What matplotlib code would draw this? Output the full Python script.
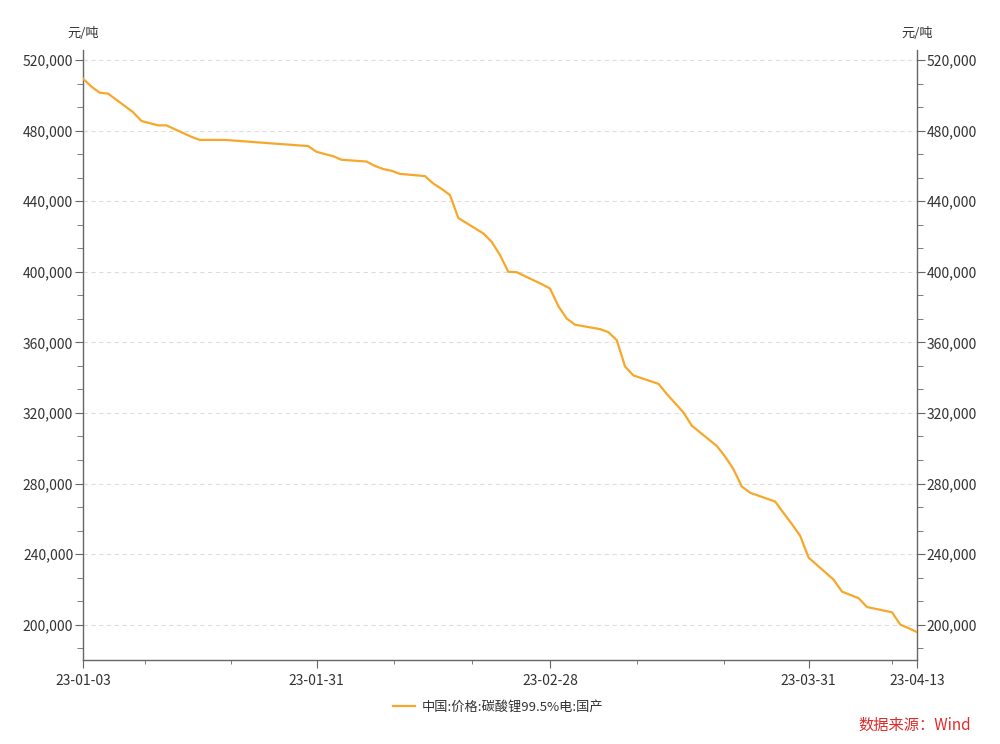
import matplotlib
matplotlib.use('Agg')
import matplotlib.pyplot as plt
import matplotlib.dates as mdates
from matplotlib.ticker import FixedLocator, FuncFormatter
import pandas as pd

plt.rcParams['font.family'] = ['Noto Sans CJK SC', 'DejaVu Sans']

dates = ['2023-01-03', '2023-01-04', '2023-01-05', '2023-01-06', '2023-01-09', '2023-01-10',
         '2023-01-11', '2023-01-12', '2023-01-13', '2023-01-16', '2023-01-17', '2023-01-18',
         '2023-01-19', '2023-01-20', '2023-01-30', '2023-01-31', '2023-02-01', '2023-02-02',
         '2023-02-03', '2023-02-06', '2023-02-07', '2023-02-08', '2023-02-09', '2023-02-10',
         '2023-02-13', '2023-02-14', '2023-02-15', '2023-02-16', '2023-02-17', '2023-02-20',
         '2023-02-21', '2023-02-22', '2023-02-23', '2023-02-24', '2023-02-27', '2023-02-28',
         '2023-03-01', '2023-03-02', '2023-03-03', '2023-03-06', '2023-03-07', '2023-03-08',
         '2023-03-09', '2023-03-10', '2023-03-13', '2023-03-14', '2023-03-15', '2023-03-16',
         '2023-03-17', '2023-03-20', '2023-03-21', '2023-03-22', '2023-03-23', '2023-03-24',
         '2023-03-27', '2023-03-28', '2023-03-29', '2023-03-30', '2023-03-31', '2023-04-03',
         '2023-04-04', '2023-04-06', '2023-04-07', '2023-04-10', '2023-04-11', '2023-04-12',
         '2023-04-13']
prices = [509500, 505000, 501500, 501000, 490500, 485500,
          484250, 483000, 483000, 476500, 474750, 474750,
          474750, 474750, 471250, 468000, 466750, 465500,
          463500, 462500, 460000, 458250, 457250, 455500,
          454250, 450000, 447000, 443500, 430500, 421750,
          417000, 409500, 400000, 399750, 393000, 390500,
          380500, 373500, 370000, 367500, 365750, 361250,
          346250, 341250, 336500, 330750, 325500, 320250,
          312750, 301250, 295250, 288000, 278250, 274750,
          269750, 263250, 257000, 250250, 238000, 225500,
          218750, 215000, 210000, 207000, 200000, 198000,
          195750]

series_name = '中国:价格:碳酸锂99.5%电:国产'
unit = '元/吨'
x_major = ['2023-01-03', '2023-01-31', '2023-02-28', '2023-03-31', '2023-04-13']
x_minor_offsets = [7.4, 17.7, 37.3, 46.7, 66.4, 76.8, 97.0]
y_major = [200000, 240000, 280000, 320000, 360000, 400000, 440000, 480000, 520000]

x = pd.to_datetime(dates)
axis_grey = '#666666'
text_grey = '#333333'

fig = plt.figure(figsize=(10, 7.44), dpi=100)
ax = fig.add_axes([0.083, 0.113, 0.834, 0.82])

ax.plot(x, prices, color='#F7A72A', linewidth=1.6, label=series_name, zorder=3)

x0 = mdates.date2num(pd.Timestamp('2023-01-03'))
x1 = mdates.date2num(pd.Timestamp('2023-04-13'))
ax.set_xlim(x0, x1)
ax.set_ylim(180000, 525800)

ax.xaxis.set_major_locator(FixedLocator([mdates.date2num(pd.Timestamp(d)) for d in x_major]))
ax.xaxis.set_minor_locator(FixedLocator([x0 + o for o in x_minor_offsets]))
ax.xaxis.set_major_formatter(mdates.DateFormatter('%y-%m-%d'))

# minor ticks split each 40,000 step into thirds
y_minor = []
for v in y_major + [160000]:
    for k in (1, 2):
        m = v + k * 40000 / 3
        if 180000 < m < 525800 and m not in y_major:
            y_minor.append(m)
ax.yaxis.set_major_locator(FixedLocator(y_major))
ax.yaxis.set_minor_locator(FixedLocator(y_minor))
ax.yaxis.set_major_formatter(FuncFormatter(lambda v, p: f'{int(v):,}'))

ax.grid(axis='y', which='major', color='#dddddd', linestyle=(0, (4, 3)), linewidth=0.8)
ax.set_axisbelow(True)

for side in ('left', 'right', 'bottom'):
    ax.spines[side].set_color(axis_grey)
    ax.spines[side].set_linewidth(1.0)
ax.spines['top'].set_visible(False)

ax.tick_params(axis='y', which='both', left=True, right=True, labelleft=True, labelright=True,
               colors=axis_grey, labelcolor=text_grey, labelsize=10)
ax.tick_params(axis='y', which='major', length=6, pad=1)
ax.tick_params(axis='y', which='minor', length=4)
ax.tick_params(axis='x', which='major', length=6, colors=axis_grey, labelcolor=text_grey,
               labelsize=10, pad=4)
ax.tick_params(axis='x', which='minor', length=3, colors=axis_grey)

fig.text(0.083, 0.955, unit, ha='center', va='center', fontsize=9.5, color=text_grey)
fig.text(0.917, 0.955, unit, ha='center', va='center', fontsize=9.5, color=text_grey)

fig.legend(loc='center', bbox_to_anchor=(0.498, 0.049), frameon=False, fontsize=9.5,
           handlelength=1.7, handletextpad=0.5, labelcolor=text_grey)

fig.text(0.971, 0.025, '数据来源：Wind', ha='right', va='center', fontsize=11, color='#E02B2B')

fig.savefig('out.png', dpi=100)
